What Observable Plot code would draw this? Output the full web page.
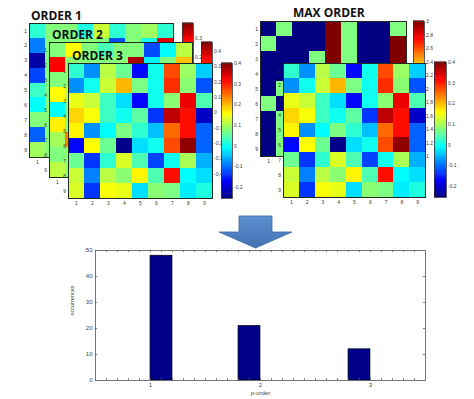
<!DOCTYPE html>
<html><head><meta charset="utf-8">
<script src="https://cdn.jsdelivr.net/npm/d3@7"></script>
<script src="https://cdn.jsdelivr.net/npm/@observablehq/plot@0.6"></script>
<style>
body{margin:0;background:#fff;}
#fig{position:relative;width:474px;height:399px;overflow:hidden;background:#fff;font-family:"Liberation Sans",Arial,sans-serif;}
#fig > *{position:absolute;}
.title{font-family:"Open Sans",sans-serif;font-weight:700;font-size:12px;color:#111;line-height:1;white-space:nowrap;}
</style></head><body><div id="fig"></div>
<script>
// ---------------- data ----------------
const cellIndex = [1, 2, 3, 4, 5, 6, 7, 8, 9];

const order1 = [
  [-0.03, 0.03, 0.03, -0.04, 0.08, -0.03, 0.03, 0.05, -0.03],
  [-0.15, 0.03, 0.03, 0.03, 0.03, -0.18, 0.03, -0.05, 0.31],
  [-0.30, 0.03, 0.05, 0.02, -0.10, 0.03, 0.10, 0.25, 0.02],
  [-0.19, 0.03, 0.04, 0.03, 0.02, -0.10, 0.28, 0.22, -0.15],
  [-0.02, 0.03, 0.02, 0.05, 0.03, 0.00, 0.20, 0.25, -0.08],
  [-0.06, 0.03, 0.04, -0.20, 0.00, 0.02, 0.22, 0.30, -0.08],
  [0.03, 0.03, 0.03, 0.08, 0.03, -0.10, 0.02, 0.06, -0.03],
  [-0.17, 0.03, 0.06, 0.05, 0.10, 0.03, 0.25, 0.00, -0.02],
  [0.05, 0.03, 0.08, 0.08, -0.02, 0.05, 0.05, 0.00, 0.02]
];
const order1Ticks = [0.3, 0.2, 0.1, 0, -0.1, -0.2, -0.3];

const order2 = [
  [0.02, 0.13, 0.02, -0.03, 0.02, 0.02, -0.25, -0.09, 0.07],
  [0.35, 0.03, 0.02, 0.02, 0.03, 0.42, -0.10, 0.02, 0.18],
  [0.02, 0.03, 0.04, 0.00, -0.20, 0.00, 0.08, 0.35, 0.03],
  [0.13, 0.07, 0.03, 0.00, 0.04, -0.18, 0.40, 0.35, -0.30],
  [-0.09, 0.02, 0.00, 0.06, 0.02, -0.06, 0.25, 0.35, -0.15],
  [0.14, 0.03, 0.05, -0.35, -0.03, 0.00, 0.28, 0.42, -0.15],
  [0.05, 0.24, 0.02, 0.12, 0.04, -0.18, 0.00, 0.10, -0.08],
  [0.02, 0.03, 0.10, 0.08, 0.16, 0.04, 0.35, -0.02, -0.04],
  [0.07, 0.03, 0.15, 0.14, -0.04, 0.08, 0.07, -0.03, 0.01]
];
const order2Ticks = [0.4, 0.3, 0.2, 0.1, 0, -0.1, -0.2, -0.3, -0.4];

const order3 = [
  [0.02, -0.08, 0.11, 0.06, -0.17, 0.00, 0.27, 0.09, -0.04],
  [-0.08, 0.00, 0.12, 0.20, 0.07, 0.00, 0.29, 0.08, -0.12],
  [0.14, 0.12, 0.03, -0.03, -0.17, 0.00, 0.08, 0.33, 0.04],
  [0.18, 0.15, 0.03, 0.00, 0.05, -0.14, 0.36, 0.31, -0.21],
  [0.16, -0.08, -0.01, 0.07, 0.02, -0.05, 0.25, 0.31, -0.11],
  [-0.17, 0.155, 0.06, -0.25, -0.03, 0.00, 0.27, 0.39, -0.11],
  [0.06, -0.14, 0.02, 0.13, 0.04, -0.13, 0.00, 0.10, -0.06],
  [0.12, -0.09, 0.11, 0.08, 0.16, 0.04, 0.31, -0.01, -0.03],
  [0.13, -0.14, 0.15, 0.14, -0.03, 0.08, 0.07, -0.02, 0.01]
];
const order3Ticks = [0.4, 0.3, 0.2, 0.1, 0, -0.1, -0.2];

const maxOrder = [
  [1, 2, 1, 1, 3, 2, 1, 1, 2],
  [2, 1, 1, 1, 3, 2, 1, 1, 3],
  [1, 1, 1, 2, 3, 2, 1, 1, 3],
  [1, 1, 1, 1, 3, 2, 1, 1, 1],
  [1, 2, 1, 1, 3, 2, 1, 1, 1],
  [2, 1, 1, 1, 3, 2, 1, 1, 1],
  [1, 2, 1, 1, 3, 2, 1, 1, 1],
  [1, 2, 1, 1, 3, 2, 1, 1, 1],
  [1, 2, 1, 1, 3, 2, 1, 1, 1]
];
const maxOrderTicks = [3, 2.8, 2.6, 2.4, 2.2, 2, 1.8, 1.6, 1.4, 1.2, 1];
const maxOrderCorr = order3; // front panel of MAX ORDER shows the same matrix

const pOrder = [1, 2, 3];
const pOrderBarCenter = [1.1, 1.9, 2.9];
const occurrences = [48, 21, 12];
const occTicks = [0, 10, 20, 30, 40, 50];
const pOrderMinorTicks = [0.6,0.7,0.8,0.9,1,1.1,1.2,1.3,1.4,1.5,1.6,1.7,1.8,1.9,2,2.1,2.2,2.3,2.4,2.5,2.6,2.7,2.8,2.9,3,3.1,3.2,3.3,3.4];

// jet colormap
const jetStops = [0, 0.125, 0.375, 0.625, 0.875, 1];
const jetColors = ["#000080", "#0000ff", "#00ffff", "#ffff00", "#ff0000", "#800000"];

// ---------------- drawing ----------------
const fig = document.getElementById("fig");
const FONT = "Liberation Sans, Arial, sans-serif";
function place(el, x, y) { el.style.left = x + "px"; el.style.top = y + "px"; fig.appendChild(el); }
function jet(lo, hi) {
  return {type: "linear", domain: jetStops.map(t => lo + t * (hi - lo)), range: jetColors, interpolate: "rgb", clamp: true};
}
const fmt1 = d => String(+(+d).toFixed(1));

function heatmap(matrix, lo, hi, box) {
  const ml = 9, mr = 1, mt = 1, mb = 9;
  const cells = matrix.flatMap((row, i) => row.map((v, j) => ({row: cellIndex[i], col: cellIndex[j], v})));
  const svg = Plot.plot({
    width: box.w + ml + mr, height: box.h + mt + mb,
    marginLeft: ml, marginRight: mr, marginTop: mt, marginBottom: mb,
    style: {background: "transparent", overflow: "visible", fontSize: "5px", fontFamily: FONT, color: "#3a3a3a"},
    x: {type: "band", domain: cellIndex, padding: 0, round: false, axis: null},
    y: {type: "band", domain: cellIndex, padding: 0, round: false, axis: null},
    color: jet(lo, hi),
    marks: [
      Plot.cell(cells, {x: "col", y: "row", fill: "v", inset: 0, shapeRendering: "crispEdges"}),
      Plot.frame({stroke: "#1e2a22", strokeWidth: 1}),
      Plot.axisX(cellIndex, {tickSize: 0, tickPadding: 2.5, label: null}),
      Plot.axisY(cellIndex, {tickSize: 0, tickPadding: 2.5, label: null})
    ]
  });
  place(svg, box.x - ml, box.y - mt);
}

function colorbar(lo, hi, ticks, box) {
  const n = 128, step = (hi - lo) / n;
  const slices = d3.range(n).map(i => lo + i * step);
  const ml = 1, mr = 14, mt = 4, mb = 4;
  const svg = Plot.plot({
    width: box.w + ml + mr, height: box.h + mt + mb,
    marginLeft: ml, marginRight: mr, marginTop: mt, marginBottom: mb,
    style: {background: "transparent", overflow: "visible", fontSize: "5px", fontFamily: FONT, color: "#3a3a3a"},
    x: {domain: [0, 1], axis: null},
    y: {domain: [lo, hi], axis: null},
    color: jet(lo, hi),
    marks: [
      Plot.rect(slices, {x1: 0, x2: 1, y1: d => d, y2: d => d + step * 1.6, fill: d => d + step / 2}),
      Plot.frame({stroke: "#333", strokeWidth: 0.8}),
      Plot.axisY({anchor: "right", ticks: ticks, tickSize: 0, tickPadding: 1.5, tickFormat: fmt1, label: null})
    ]
  });
  place(svg, box.x - ml, box.y - mt);
}

function title(text, x, y) {
  const d = document.createElement("div");
  d.className = "title"; d.textContent = text;
  place(d, x, y);
}

// left stack
heatmap(order1, -0.325, 0.38, {x: 29, y: 23, w: 144, h: 134});
colorbar(-0.325, 0.38, order1Ticks, {x: 182, y: 23, w: 11, h: 134});
title("ORDER 1", 31, 10);
heatmap(order2, -0.423, 0.459, {x: 49, y: 42, w: 143, h: 135});
colorbar(-0.423, 0.459, order2Ticks, {x: 201, y: 42, w: 11, h: 135});
title("ORDER 2", 52, 29.3);
heatmap(order3, -0.255, 0.4, {x: 68, y: 63, w: 144, h: 135});
colorbar(-0.255, 0.4, order3Ticks, {x: 221, y: 63, w: 11, h: 135});
title("ORDER 3", 72, 50.3);

// right stack
heatmap(maxOrder, 1, 3, {x: 260, y: 21, w: 146, h: 135});
colorbar(1, 3, maxOrderTicks, {x: 413, y: 21, w: 11, h: 135});
title("MAX ORDER", 293, 6.6);
heatmap(maxOrderCorr, -0.255, 0.4, {x: 283, y: 63, w: 142, h: 134});
colorbar(-0.255, 0.4, order3Ticks, {x: 434, y: 62, w: 12, h: 135});

// bar chart
const bars = pOrder.map((p, i) => ({p, c: pOrderBarCenter[i], n: occurrences[i]}));
const barSvg = Plot.plot({
  width: 474, height: 169,
  marginLeft: 95, marginRight: 49, marginTop: 20, marginBottom: 19,
  style: {background: "transparent", overflow: "visible", fontSize: "6px", fontFamily: FONT, color: "#444"},
  x: {domain: [0.5, 3.5], axis: null},
  y: {domain: [0, 50], axis: null},
  marks: [
    Plot.rect(bars, {x1: d => d.c - 0.1, x2: d => d.c + 0.1, y1: 0, y2: "n", fill: "#000088", stroke: "#000", strokeWidth: 0.6}),
    Plot.frame({stroke: "#555", strokeWidth: 0.8}),
    Plot.ruleX(pOrderMinorTicks, {x: d => d, y1: 0, y2: 0.8, stroke: "#555", strokeWidth: 0.7}),
    Plot.ruleX(pOrderMinorTicks, {x: d => d, y1: 50, y2: 49.2, stroke: "#555", strokeWidth: 0.7}),
    Plot.ruleY(occTicks, {y: d => d, x1: 0.5, x2: 0.52, stroke: "#555", strokeWidth: 0.7}),
    Plot.ruleY(occTicks, {y: d => d, x1: 3.48, x2: 3.5, stroke: "#555", strokeWidth: 0.7}),
    Plot.axisX(pOrder, {tickSize: 0, tickPadding: 2, label: null, tickFormat: d => String(d)}),
    Plot.axisY(occTicks, {tickSize: 0, tickPadding: 3, label: null, tickFormat: d => String(d)}),
    Plot.text(["p-order"], {frameAnchor: "bottom", dy: 14.5, text: d => d}),
    Plot.text(["occurrences"], {frameAnchor: "left", dx: -23, rotate: -90, text: d => d, fontSize: 5.5})
  ]
});
place(barSvg, 0, 230);

// arrow (decoration)
const ns = "http://www.w3.org/2000/svg";
const arrow = document.createElementNS(ns, "svg");
arrow.setAttribute("width", "80"); arrow.setAttribute("height", "40");
arrow.innerHTML = '<defs><linearGradient id="ag" x1="0" y1="0" x2="0" y2="1"><stop offset="0" stop-color="#5b8fd0"/><stop offset="1" stop-color="#4472b4"/></linearGradient></defs>' +
  '<polygon points="20,1 53,1 53,17 73,17 36.5,33 0,17 20,17" fill="url(#ag)" stroke="#3d6aa0" stroke-width="0.8"/>';
place(arrow, 219, 215);
</script>
</body></html>
